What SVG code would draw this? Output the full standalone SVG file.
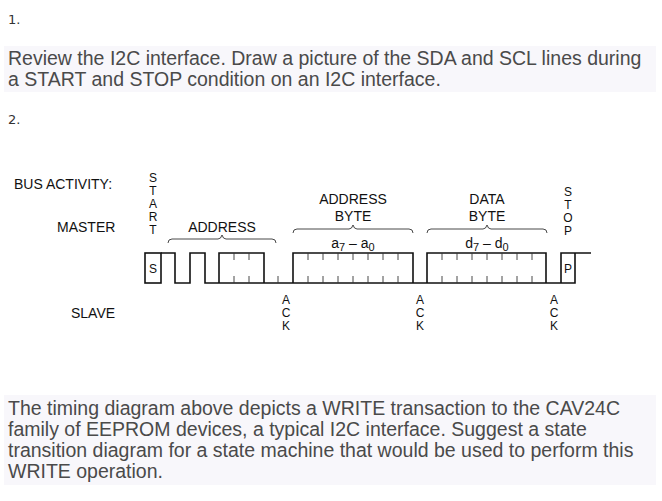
<svg xmlns="http://www.w3.org/2000/svg" width="662" height="501" viewBox="0 0 662 501">
<style>
.q{font-family:"Liberation Sans",Arial,sans-serif;font-size:19.5px;fill:#4a4a4a}
.n{font-family:"DejaVu Sans",sans-serif;font-size:13px;fill:#333}
.t{font-family:"Liberation Sans",Arial,sans-serif;font-size:14px;fill:#111}
.v{font-family:"Liberation Sans",Arial,sans-serif;font-size:14px;fill:#111;text-anchor:middle}
.s{font-family:"Liberation Sans",Arial,sans-serif;font-size:12px;fill:#111;text-anchor:middle}
.vt{font-family:"Liberation Sans",Arial,sans-serif;font-size:12px;fill:#111;writing-mode:vertical-rl;text-orientation:upright;letter-spacing:-1px}
.w{fill:none;stroke:#111;stroke-width:1.6}
.k{fill:none;stroke:#333;stroke-width:0.9}
.b{fill:none;stroke:#333;stroke-width:0.9}
</style>
<rect width="662" height="501" fill="#fff"/>
<text class="n" x="8" y="24">1.</text>
<rect x="4" y="46" width="652" height="46" fill="#f8f7fb"/>
<text class="q" x="8" y="65">Review the I2C interface. Draw a picture of the SDA and SCL lines during</text>
<text class="q" x="8" y="86">a START and STOP condition on an I2C interface.</text>
<text class="n" x="8" y="124">2.</text>
<rect x="4" y="395" width="652" height="90" fill="#f8f7fb"/>
<text class="q" x="8" y="415">The timing diagram above depicts a WRITE transaction to the CAV24C</text>
<text class="q" x="8" y="436">family of EEPROM devices, a typical I2C interface. Suggest a state</text>
<text class="q" x="8" y="457">transition diagram for a state machine that would be used to perform this</text>
<text class="q" x="8" y="478">WRITE operation.</text>

<g id="labels">
<text class="t" x="14" y="189">BUS ACTIVITY:</text>
<text class="t" x="57" y="232">MASTER</text>
<text class="t" x="71" y="318">SLAVE</text>
<text class="vt" x="153" y="171">START</text>
<text class="v" x="222" y="232">ADDRESS</text>
<text class="v" x="353" y="204">ADDRESS</text>
<text class="v" x="353" y="221">BYTE</text>
<text class="v" x="353" y="248">a<tspan font-size="11" dy="3">7</tspan><tspan dy="-3"> – a</tspan><tspan font-size="11" dy="3">0</tspan></text>
<text class="v" x="487" y="204">DATA</text>
<text class="v" x="487" y="221">BYTE</text>
<text class="v" x="487" y="248">d<tspan font-size="11" dy="3">7</tspan><tspan dy="-3"> – d</tspan><tspan font-size="11" dy="3">0</tspan></text>
<text class="vt" x="568" y="185">STOP</text>
<text class="vt" x="286" y="293">ACK</text>
<text class="vt" x="420" y="293">ACK</text>
<text class="vt" x="554" y="293">ACK</text>
<text class="s" x="153" y="273">S</text>
<text class="s" x="568" y="273">P</text>
</g>

<g id="braces">
<path class="b" d="M168,243 q0,-4 4,-4 h46 q3,0 4,-4 q1,4 4,4 h46 q4,0 4,4"/>
<path class="b" d="M293,233 q0,-4 4,-4 h52 q3,0 4,-4 q1,4 4,4 h52 q4,0 4,4"/>
<path class="b" d="M427,233 q0,-4 4,-4 h52 q3,0 4,-4 q1,4 4,4 h52 q4,0 4,4"/>
</g>

<g id="waveform">
<rect class="w" x="145" y="253" width="16" height="30"/>
<path class="w" d="M161,253 H175 V283 H190 V253 H205 V283 H219 V253 H264 V283 H219 V253 M264,283 H293 V253 H413 V283 H293 M413,283 H427 V253 H546 V283 H427 M546,283 H561 V253 H575 V283 H561 M575,253 H591"/>
<path class="k" d="M234,253 v7 M249,253 v7 M234,276 v7 M249,276 v7 M278,276 v7"/>
<path class="k" d="M308,253 v7 M323,253 v7 M338,253 v7 M353,253 v7 M368,253 v7 M383,253 v7 M398,253 v7 M308,276 v7 M323,276 v7 M338,276 v7 M353,276 v7 M368,276 v7 M383,276 v7 M398,276 v7"/>
<path class="k" d="M442,253 v7 M457,253 v7 M472,253 v7 M487,253 v7 M502,253 v7 M517,253 v7 M532,253 v7 M442,276 v7 M457,276 v7 M472,276 v7 M487,276 v7 M502,276 v7 M517,276 v7 M532,276 v7"/>
</g>
</svg>
